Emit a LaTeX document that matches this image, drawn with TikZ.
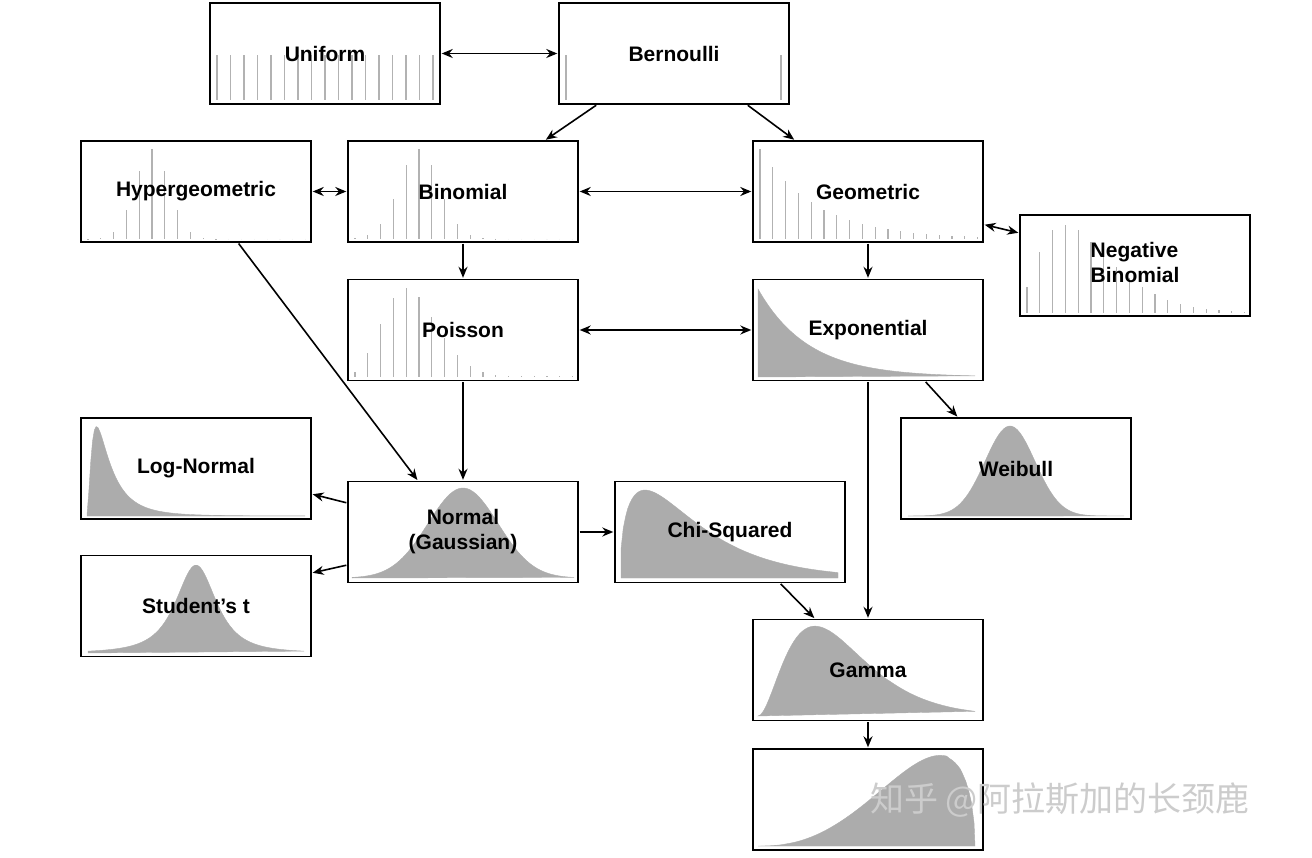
\documentclass[tikz,border=0pt]{standalone}
\usepackage{fontspec}
\setmainfont{Liberation Sans}
\newfontfamily\cjk{Noto Sans CJK SC}
\usetikzlibrary{arrows.meta,calc}
\begin{document}
\begin{tikzpicture}[x=1pt,y=-1pt,
  box/.style={draw,line width=1.4pt,minimum width=230pt,minimum height=101pt,inner sep=0pt,align=center,font=\fontsize{21}{25}\selectfont\bfseries},
  bar/.style={gray!60,line width=1.1pt},
  cont/.style={fill=gray!65,draw=gray!65},
  arr/.style={-{Stealth[length=11pt,width=9pt]},line width=1.6pt,shorten >=1pt,shorten <=1pt},
  darr/.style={{Stealth[length=11pt,width=9pt]}-{Stealth[length=11pt,width=9pt]},line width=1.6pt,shorten >=1pt,shorten <=1pt}]
\useasboundingbox (0,0) rectangle (1312,858);
% ---- discrete plots
\foreach \i in {0,...,16} \draw[bar] (217+13.5*\i,100) -- ++(0,-45);
\draw[bar] (566,100) -- ++(0,-45); \draw[bar] (781,100) -- ++(0,-45);
\foreach \i in {0,...,17} {\pgfmathsetmacro\h{90*exp(-(\i-5)^2/5)} \draw[bar] (355+12.8*\i,239) -- ++(0,-\h);}
\foreach \i in {0,...,17} {\pgfmathsetmacro\h{90*exp(-(\i-5)^2/3.5)} \draw[bar] (88+12.8*\i,239) -- ++(0,-\h);}
\foreach \h [count=\i from 0] in {5.2,23.5,52.9,79.3,89.2,80.3,60.2,38.7,21.8,10.9,4.9,2.0,0.8,0.5,0.5,0.5,0.5,0.5} \draw[bar] (355+12.8*\i,377) -- ++(0,-\h);
\foreach \i in {0,...,17} {\pgfmathsetmacro\h{90*0.8^\i} \draw[bar] (760+12.8*\i,239) -- ++(0,-\h);}
\foreach \i in {0,...,17} {\pgfmathsetmacro\h{25.5*(\i+1)^2*0.6^\i} \draw[bar] (1027+12.8*\i,313) -- ++(0,-\h);}
% ---- continuous plots
\fill[cont] (758,377) -- plot[domain=758:975,samples=80] (\x,{377-88*exp(-(\x-758)/50)}) -- cycle;
\fill[cont] (908,516) -- plot[domain=908:1124,samples=80] (\x,{516-90*exp(-((\x-1010)/25)^2/2)}) -- cycle;
\fill[cont] (87,516) -- plot[domain=87:305,samples=120] (\x,{516-65*exp(-(ln((\x-86)/20))^2/1.28)/((\x-86)/20)}) -- (305,516) -- cycle;
\fill[cont] (352,578) -- plot[domain=352:574,samples=80] (\x,{578-90*exp(-((\x-463)/35)^2/2)}) -- cycle;
\fill[cont] (621,578) -- plot[domain=621:838,samples=100] (\x,{578-205*((\x-620)/50)^0.5*exp(-(\x-620)/50)}) -- (838,578) -- cycle;
\fill[cont] (88,653) -- plot[domain=88:304,samples=80] (\x,{653-88*(1+((\x-196)/22)^2/2)^(-1.5)}) -- cycle;
\fill[cont] (758,716) -- plot[domain=758:975,samples=80] (\x,{716-166*((\x-758)/28.5)^2*exp(-(\x-758)/28.5)}) -- cycle;
\fill[cont] (758,846) -- plot[domain=758:974,samples=80] (\x,{846-349*((\x-758)/217)^2.5*(1-(\x-758)/217)^0.5}) -- (975,846) -- cycle;
% ---- boxes
\node[box] (uni) at (325,53.5) {Uniform};
\node[box] (bern) at (674,53.5) {Bernoulli};
\node[box] (hyp) at (196,191.5) {Hypergeometric};
\node[box] (bino) at (463,191.5) {Binomial};
\node[box] (geo) at (868,191.5) {Geometric};
\node[box] (nb) at (1135,265.5) {\begin{tabular}{@{}l@{}}Negative\\Binomial\end{tabular}};
\node[box] (pois) at (463,330) {Poisson};
\node[box] (expo) at (868,330) {Exponential};
\node[box] (weib) at (1016,468.5) {Weibull};
\node[box] (logn) at (196,468.5) {Log-Normal};
\node[box] (norm) at (463,532) {Normal\\(Gaussian)};
\node[box] (chi) at (730,532) {Chi-Squared};
\node[box] (stud) at (196,606) {Student’s t};
\node[box] (gam) at (868,670) {Gamma};
\node[box] (beta) at (868,799.5) {};
% ---- arrows
\draw[darr] (uni.east) -- (bern.west);
\draw[arr] ([xshift=-77pt]bern.south) -- ([xshift=82pt]bino.north);
\draw[arr] ([xshift=73pt]bern.south) -- ([xshift=-73pt]geo.north);
\draw[darr] (hyp.east) -- (bino.west);
\draw[darr] (bino.east) -- (geo.west);
\draw[darr] ([yshift=-33pt]geo.east) -- ([yshift=32.5pt]nb.west);
\draw[arr] (bino.south) -- (pois.north);
\draw[arr] (geo.south) -- (expo.north);
\draw[darr] (pois.east) -- (expo.west);
\draw[arr] ([xshift=42pt]hyp.south) -- ([xshift=-45pt]norm.north);
\draw[arr] (pois.south) -- (norm.north);
\draw[arr] (expo.south) -- (gam.north);
\draw[arr] ([xshift=57pt]expo.south) -- ([xshift=-58pt]weib.north);
\draw[arr] ([yshift=29pt]norm.west) -- ([yshift=-25.5pt]logn.east);
\draw[arr] ([yshift=-33pt]norm.west) -- ([yshift=33pt]stud.east);
\draw[arr] (norm.east) -- (chi.west);
\draw[arr] ([xshift=50pt]chi.south) -- ([xshift=-53pt]gam.north);
\draw[arr] (gam.south) -- (beta.north);
% ---- watermark
\node[text=white!80!black,font=\cjk\fontsize{34}{40}\selectfont] (wm) at (1060,800) {知乎 @阿拉斯加的长颈鹿};
\end{tikzpicture}
\end{document}
